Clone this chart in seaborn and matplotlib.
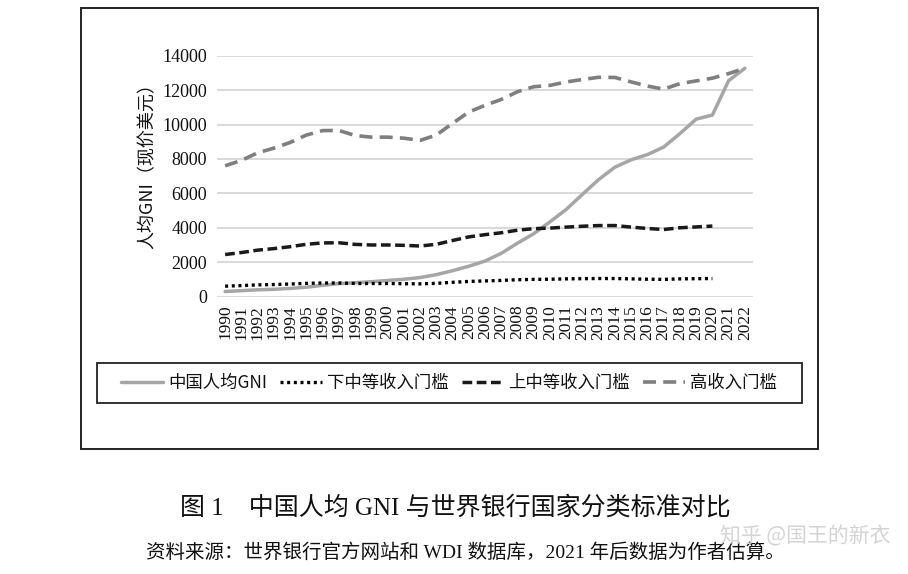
import pandas as pd
import seaborn as sns
import matplotlib.pyplot as plt
from matplotlib.patches import Rectangle

# values (current US$)
years = list(range(1990, 2023))
china_gni = [290, 340, 390, 420, 470, 540, 650, 750, 800, 860, 930, 1000, 1100, 1270,
             1500, 1760, 2060, 2510, 3100, 3650, 4340, 5060, 5940, 6800, 7520, 7950,
             8250, 8690, 9470, 10310, 10550, 12550, 13270]
lower_middle = [600, 635, 675, 695, 725, 765, 785, 785, 760, 755, 755, 745, 735, 765,
                825, 875, 905, 935, 975, 995, 1005, 1025, 1035, 1045, 1045, 1025,
                1005, 995, 1025, 1035, 1045]
upper_middle = [2440, 2555, 2695, 2785, 2895, 3035, 3115, 3125, 3030, 2995, 2995, 2975,
                2935, 3035, 3255, 3465, 3595, 3705, 3855, 3945, 3975, 4035, 4085, 4125,
                4125, 4035, 3955, 3895, 3995, 4045, 4095]
high_income = [7600, 7910, 8355, 8625, 8955, 9385, 9645, 9655, 9360, 9265, 9265, 9205,
               9075, 9385, 10065, 10725, 11115, 11455, 11905, 12195, 12275, 12475, 12615,
               12745, 12735, 12475, 12235, 12055, 12375, 12535, 12695, 12960, 13270]

series_names = ["中国人均GNI", "下中等收入门槛", "上中等收入门槛", "高收入门槛"]
y_label = "人均GNI（现价美元）"
caption = "图 1　中国人均 GNI 与世界银行国家分类标准对比"
source = "资料来源：世界银行官方网站和 WDI 数据库，2021 年后数据为作者估算。"
watermark = "知乎 @国王的新衣"

sns.set_theme(style="white")
plt.rcParams["font.family"] = ["Liberation Serif", "Noto Sans CJK SC", "DejaVu Sans"]

W, H = 908, 574
fig = plt.figure(figsize=(W / 100, H / 100), dpi=100)
ax = fig.add_axes([217 / W, 1 - 296.5 / H, (753 - 217) / W, (296.5 - 55.7) / H])

styles = [
    (china_gni, "#A6A6A6", "-", 2.5),
    (lower_middle, "black", (0, (0.9, 1.1)), 2.4),
    (upper_middle, "#1a1a1a", (0, (2.8, 1.3)), 2.5),
    (high_income, "#7f7f7f", (0, (3.6, 2.0)), 2.6),
]
for (vals, color, ls, lw), name in zip(styles, series_names):
    sns.lineplot(x=years[:len(vals)], y=vals, ax=ax, color=color, linestyle=ls,
                 linewidth=lw, label=name)

handles, labels = ax.get_legend_handles_labels()
if ax.get_legend() is not None:
    ax.get_legend().remove()

ax.set_xlim(1989.5, 2022.5)
ax.set_ylim(0, 14000)
ax.set_yticks(range(0, 14001, 2000))
ax.set_xticks(years)
ax.set_xticklabels([str(y) for y in years], rotation=90, fontsize=12.5,
                   family="Liberation Serif")
ax.set_yticklabels([str(v) for v in range(0, 14001, 2000)], fontsize=13,
                   family="Liberation Serif")
ax.tick_params(axis="both", length=0, pad=7, colors="#111111")
ax.tick_params(axis="x", pad=6)
ax.grid(axis="y", color="#d9d9d9", linewidth=1.4)
ax.set_axisbelow(True)
for s in ax.spines.values():
    s.set_visible(False)
ax.set_xlabel("")
ax.set_ylabel("")

fig.text(147 / W, 1 - 162 / H, y_label, rotation=90, ha="center", va="center",
         fontsize=13, family=["Noto Sans CJK SC", "DejaVu Sans"], color="#111111")

# legend centred in its own box, box drawn separately
leg = fig.legend(handles, labels, loc="center", ncol=4,
                 bbox_to_anchor=(449 / W, 1 - 383 / H),
                 prop={"family": ["Noto Sans CJK SC", "DejaVu Sans"], "size": 12.5},
                 frameon=False, handlelength=2.4, handletextpad=0.3,
                 columnspacing=0.75, borderpad=0, borderaxespad=0)
for t in leg.get_texts():
    t.set_color("#111111")
fig.patches.append(Rectangle((97 / W, 1 - 403 / H), 705 / W, 40 / H,
                             transform=fig.transFigure, fill=False,
                             edgecolor="#222222", linewidth=1.3))

# outer frame around the chart
fig.patches.append(Rectangle((81 / W, 1 - 449 / H), (818 - 81) / W, (449 - 8) / H,
                             transform=fig.transFigure, fill=False,
                             edgecolor="#222222", linewidth=1.4))

fig.text(455 / W, 1 - 508 / H, caption, ha="center", va="center", fontsize=18,
         color="#111111")
fig.text(465 / W, 1 - 553 / H, source, ha="center", va="center", fontsize=14,
         color="#111111")
fig.text(805 / W, 1 - 536 / H, watermark, ha="center", va="center", fontsize=15,
         family=["Noto Sans CJK SC", "DejaVu Sans"], color="#d4d4d4")

fig.savefig("out.png", dpi=100, facecolor="white")
